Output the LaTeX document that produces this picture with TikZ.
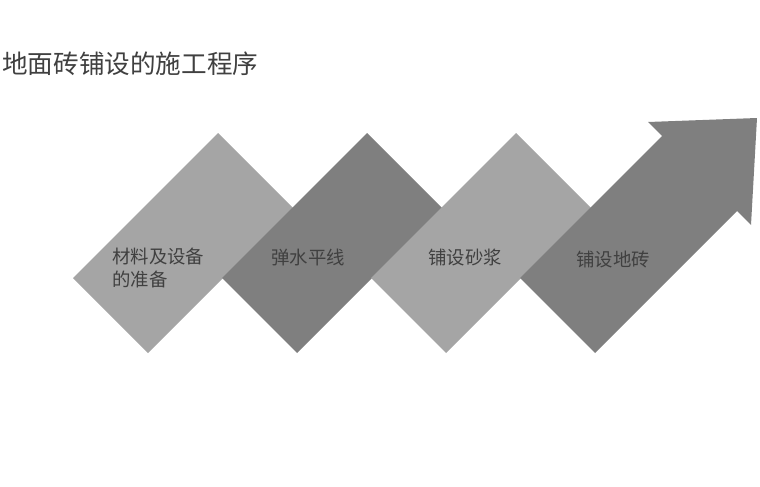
\documentclass[tikz,border=0pt]{standalone}
\usepackage{fontspec}
\setmainfont{Noto Sans CJK SC}
\usepackage{xcolor}
\usepackage{tikz}

\definecolor{lightgr}{HTML}{A5A5A5}
\definecolor{darkgr}{HTML}{7F7F7F}
\definecolor{txtgr}{HTML}{404040}

\begin{document}
\begin{tikzpicture}[x=1pt,y=-1pt,
  lbl/.style={anchor=west,inner sep=0pt,text=txtgr,align=left,
    font=\fontsize{18.4}{23}\selectfont}]
  \useasboundingbox (0,0) rectangle (760,487);
  \node[anchor=west,inner sep=0pt,text=txtgr,font=\fontsize{25.6}{30}\selectfont]
    (title) at (2,64) {地面砖铺设的施工程序};
  % zigzag of tilted bars
  \fill[lightgr] (73,278)--(218,133)--(293,208)--(148,353)--cycle;
  \fill[darkgr] (222,278)--(367,133)--(442,208)--(297,353)--cycle;
  \fill[lightgr] (371,278)--(516,133)--(591,208)--(446,353)--cycle;
  \fill[darkgr] (520,278)--(662,136)--(648,122)--(757,118)--(751,225)--(737,211)--(595,353)--cycle;
  % labels
  \node[lbl] (s1) at (112,268) {材料及设备\\的准备};
  \node[lbl] (s2) at (271,257) {弹水平线};
  \node[lbl] (s3) at (428,257) {铺设砂浆};
  \node[lbl] (s4) at (576,260) {铺设地砖};
\end{tikzpicture}
\end{document}
